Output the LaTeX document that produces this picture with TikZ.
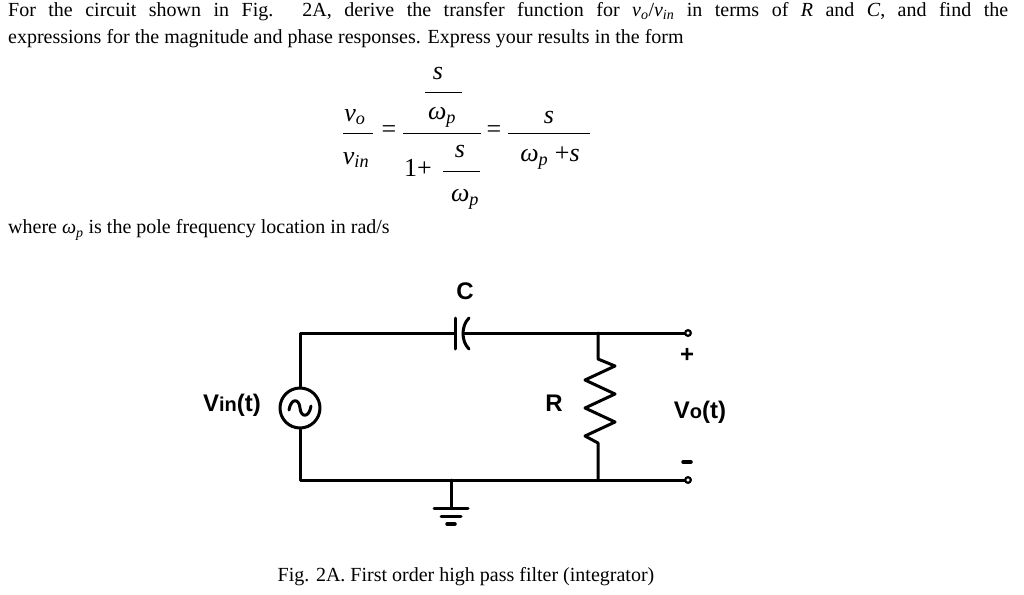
\documentclass[tikz,border=0pt]{standalone}
\usepackage{fontspec}
\setmainfont{Liberation Serif}
\newfontfamily\arialf{Liberation Sans}
\begin{document}
\begin{tikzpicture}[x=1pt,y=-1pt,
  w/.style={line width=3pt,line cap=round,line join=round},
  lab/.style={font=\arialf\bfseries\fontsize{24}{24}\selectfont,inner sep=0},
  fmla/.style={font=\fontsize{26}{28}\selectfont,inner sep=0},
  bar/.style={line width=0.8pt}]
\useasboundingbox (0,0) rectangle (1024,594);
% paragraph
\node[anchor=north west,inner sep=0,text width=1000pt,align=justify,font=\fontsize{20}{27}\selectfont] (para) at (8,2)
 {For the circuit shown in Fig. 2A, derive the transfer function for \textit{v\textsubscript{o}}/\textit{v\textsubscript{in}} in terms of \textit{R} and \textit{C}, and find the\linebreak expressions for the magnitude and phase responses. Express your results in the form};
% formula
\node[fmla] (vo) at (355,117) {\textit{v\textsubscript{o}}};
\node[fmla] (vin) at (356,160) {\textit{v\textsubscript{in}}};
\draw[bar] (343,133) -- (373,133);
\node[fmla] (eq1) at (389,132) {=};
\draw[bar] (403,133) -- (481,133);
\node[fmla] (s1) at (438,74) {\textit{s}};
\draw[bar] (425,92) -- (462,92);
\node[fmla] (w1) at (442,117) {\textit{ω\textsubscript{p}}};
\node[fmla] (one) at (418,168) {1+};
\node[fmla] (s2) at (460,152) {\textit{s}};
\draw[bar] (443,171) -- (480,171);
\node[fmla] (w2) at (465,199) {\textit{ω\textsubscript{p}}};
\node[fmla] (eq2) at (494,132) {=};
\draw[bar] (508,133) -- (590,133);
\node[fmla] (s3) at (549,117) {\textit{s}};
\node[fmla] (den) at (550,158) {\textit{ω\textsubscript{p}} +\textit{s}};
\node[anchor=west,inner sep=0,font=\fontsize{20}{24}\selectfont] (where) at (8,230)
 {where \textit{ω\textsubscript{p}} is the pole frequency location in rad/s};
% circuit
\coordinate (tl) at (300,333); \coordinate (bl) at (300,480);
\node[draw,circle,w,minimum size=40pt,inner sep=0] (src) at (300,408) {};
\draw[w] (src.north) -- (tl) -- (455,333);
\draw[w] (455,318) -- (455,349);
\draw[w] (469,318) .. controls (461,326) and (461,341) .. (469,349);
\draw[w] (463,333) -- (598,333) -- (686,333);
\draw[w] (598,333) -- (598,359) -- (615,366) -- (585,380) -- (615,394) -- (585,408) -- (615,422) -- (585,436) -- (598,443) -- (598,480);
\draw[w] (src.south) -- (bl) -- (686,480);
\draw[w] (289,410) .. controls (291,398) and (299,398) .. (300,408) .. controls (301,418) and (309,418) .. (311,406);
\node[draw,circle,line width=2.2pt,fill=white,inner sep=2pt] (p1) at (688,333) {};
\node[draw,circle,line width=2.2pt,fill=white,inner sep=2pt] (p2) at (688,480) {};
\draw[w] (451,480) -- (451,508);
\draw[w] (434,508) -- (468,508);
\draw[w] (441,516) -- (461,516);
\draw[w,line width=3.5pt] (447,524) -- (455,524);
\node[lab] (cl) at (465,291) {C};
\node[lab] (rl) at (554,403) {R};
\node[lab] (vil) at (232,405) {V\fontsize{20}{20}\selectfont in\fontsize{24}{24}\selectfont(t)};
\node[lab] (vol) at (700,412) {V\fontsize{20}{20}\selectfont o\fontsize{24}{24}\selectfont(t)};
\node[lab] (plus) at (687,355) {+};
\draw[w,line width=3.5pt] (683,462) -- (691,462);
\node[anchor=center,inner sep=0,font=\fontsize{20}{24}\selectfont] (cap) at (466,577) {Fig. 2A. First order high pass filter (integrator)};
\end{tikzpicture}
\end{document}
